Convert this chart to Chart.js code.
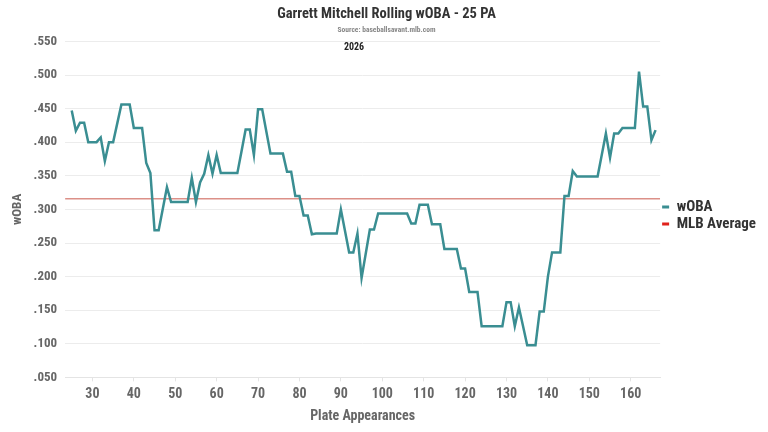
<!DOCTYPE html>
<html>
<head>
<meta charset="utf-8">
<script src="https://cdn.jsdelivr.net/npm/chart.js@4/dist/chart.umd.min.js"></script>
<style>
  html, body { margin: 0; padding: 0; background: #fff; }
  #wrap { width: 768px; height: 432px; position: relative; }
</style>
</head>
<body>
<div id="wrap"><canvas id="chart"></canvas></div>
<script>
const plateAppearances = [
  25, 26, 27, 28, 29, 30, 31, 32, 33, 34, 35, 36, 37, 38, 39, 40, 41, 42, 43, 44,
  45, 46, 47, 48, 49, 50, 51, 52, 53, 54, 55, 56, 57, 58, 59, 60, 61, 62, 63, 64,
  65, 66, 67, 68, 69, 70, 71, 72, 73, 74, 75, 76, 77, 78, 79, 80, 81, 82, 83, 84,
  85, 86, 87, 88, 89, 90, 91, 92, 93, 94, 95, 96, 97, 98, 99, 100, 101, 102, 103, 104,
  105, 106, 107, 108, 109, 110, 111, 112, 113, 114, 115, 116, 117, 118, 119, 120, 121, 122, 123, 124,
  125, 126, 127, 128, 129, 130, 131, 132, 133, 134, 135, 136, 137, 138, 139, 140, 141, 142, 143, 144,
  145, 146, 147, 148, 149, 150, 151, 152, 153, 154, 155, 156, 157, 158, 159, 160, 161, 162, 163, 164,
  165, 166
];

const rollingWoba = [
  .447, .417, .429, .429, .400, .400, .400, .407, .372, .400, .400, .428, .456, .456, .456, .421, .421, .421, .369, .354,
  .269, .269, .301, .333, .311, .311, .311, .311, .311, .347, .311, .340, .353, .381, .353, .381, .354, .354, .354, .354,
  .354, .386, .419, .419, .381, .449, .449, .416, .383, .383, .383, .383, .356, .356, .320, .320, .291, .291, .263, .264,
  .264, .264, .264, .264, .264, .300, .268, .236, .236, .264, .198, .234, .270, .270, .294, .294, .294, .294, .294, .294,
  .294, .294, .279, .279, .307, .307, .307, .278, .278, .278, .241, .241, .241, .241, .212, .212, .177, .177, .177, .126,
  .126, .126, .126, .126, .126, .162, .162, .126, .154, .126, .098, .098, .098, .148, .148, .200, .236, .236, .236, .320,
  .320, .357, .349, .349, .349, .349, .349, .349, .381, .413, .377, .413, .413, .421, .421, .421, .421, .505, .453, .453,
  .403, .418
];

const mlbAverage = 0.316;
const xTicks = [30, 40, 50, 60, 70, 80, 90, 100, 110, 120, 130, 140, 150, 160];
const yTicks = [.05, .1, .15, .2, .25, .3, .35, .4, .45, .5, .55];
const xMin = 23.4;
const xMax = 167.1;

const chartTitle = "Garrett Mitchell Rolling wOBA - 25 PA";
const chartSource = "Source: baseballsavant.mlb.com";
const seasonLabel = "2026";

const teal = "#3a8e92";
const gray = "#666";

Chart.defaults.font.family = "'Roboto Condensed', 'Liberation Sans Narrow', 'DejaVu Sans Condensed', Roboto, sans-serif";
Chart.defaults.font.weight = "bold";

// small label for the season, just below the top grid line
const seasonPlugin = {
  id: "season",
  afterDraw(chart) {
    const ctx = chart.ctx;
    ctx.save();
    ctx.font = "bold 10px " + Chart.defaults.font.family;
    ctx.fillStyle = "#222";
    ctx.textAlign = "center";
    ctx.textBaseline = "middle";
    ctx.fillText(seasonLabel, 354, 47);
    ctx.restore();
  }
};

const points = plateAppearances.map((pa, i) => ({ x: pa, y: rollingWoba[i] }));

new Chart(document.getElementById("chart"), {
  type: "line",
  data: {
    datasets: [
      {
        label: "wOBA",
        data: points,
        borderColor: teal,
        backgroundColor: teal,
        borderWidth: 2.5,
        pointRadius: 0,
        tension: 0
      },
      {
        label: "MLB Average",
        data: [{ x: xMin, y: mlbAverage }, { x: xMax, y: mlbAverage }],
        borderColor: "#dc9088",
        backgroundColor: "#e0211b",
        borderWidth: 1.5,
        pointRadius: 0
      }
    ]
  },
  options: {
    responsive: true,
    maintainAspectRatio: false,
    animation: false,
    layout: { padding: { left: 7, right: 2, top: 2, bottom: 3 } },
    plugins: {
      title: {
        display: true,
        text: chartTitle,
        color: "#333",
        font: { size: 14.5, weight: "bold" },
        padding: { top: 4, bottom: 2 }
      },
      subtitle: {
        display: true,
        text: chartSource,
        color: "#888",
        font: { size: 7.5, weight: "bold" },
        padding: { bottom: 7 }
      },
      legend: {
        position: "right",
        labels: {
          color: "#333",
          boxWidth: 7,
          boxHeight: 3,
          padding: 2,
          font: { size: 15, weight: "bold" },
          generateLabels(chart) {
            return Chart.defaults.plugins.legend.labels.generateLabels(chart).map(l => {
              l.strokeStyle = l.fillStyle;
              l.lineWidth = 0;
              return l;
            });
          }
        }
      },
      tooltip: { enabled: false }
    },
    scales: {
      x: {
        type: "linear",
        min: xMin,
        max: xMax,
        afterBuildTicks(scale) {
          scale.ticks = xTicks.map(v => ({ value: v }));
        },
        grid: { drawOnChartArea: false, color: "#e4e4e4", tickLength: 4 },
        border: { color: "#e4e4e4" },
        ticks: { color: gray, font: { size: 14, weight: "bold" }, padding: 5 },
        title: {
          display: true,
          text: "Plate Appearances",
          color: gray,
          font: { size: 14, weight: "bold" },
          padding: { top: 0 }
        }
      },
      y: {
        min: 0.05,
        max: 0.55,
        afterBuildTicks(scale) {
          scale.ticks = yTicks.map(v => ({ value: v }));
        },
        grid: { color: "#ececec", drawTicks: false },
        border: { display: false },
        ticks: {
          color: gray,
          font: { size: 13, weight: "bold" },
          padding: 8,
          callback: v => v.toFixed(3).replace(/^0/, "")
        },
        title: {
          display: true,
          text: "wOBA",
          color: gray,
          font: { size: 13, weight: "bold" },
          padding: { top: 3, bottom: 0 }
        }
      }
    }
  },
  plugins: [seasonPlugin]
});
</script>
</body>
</html>
